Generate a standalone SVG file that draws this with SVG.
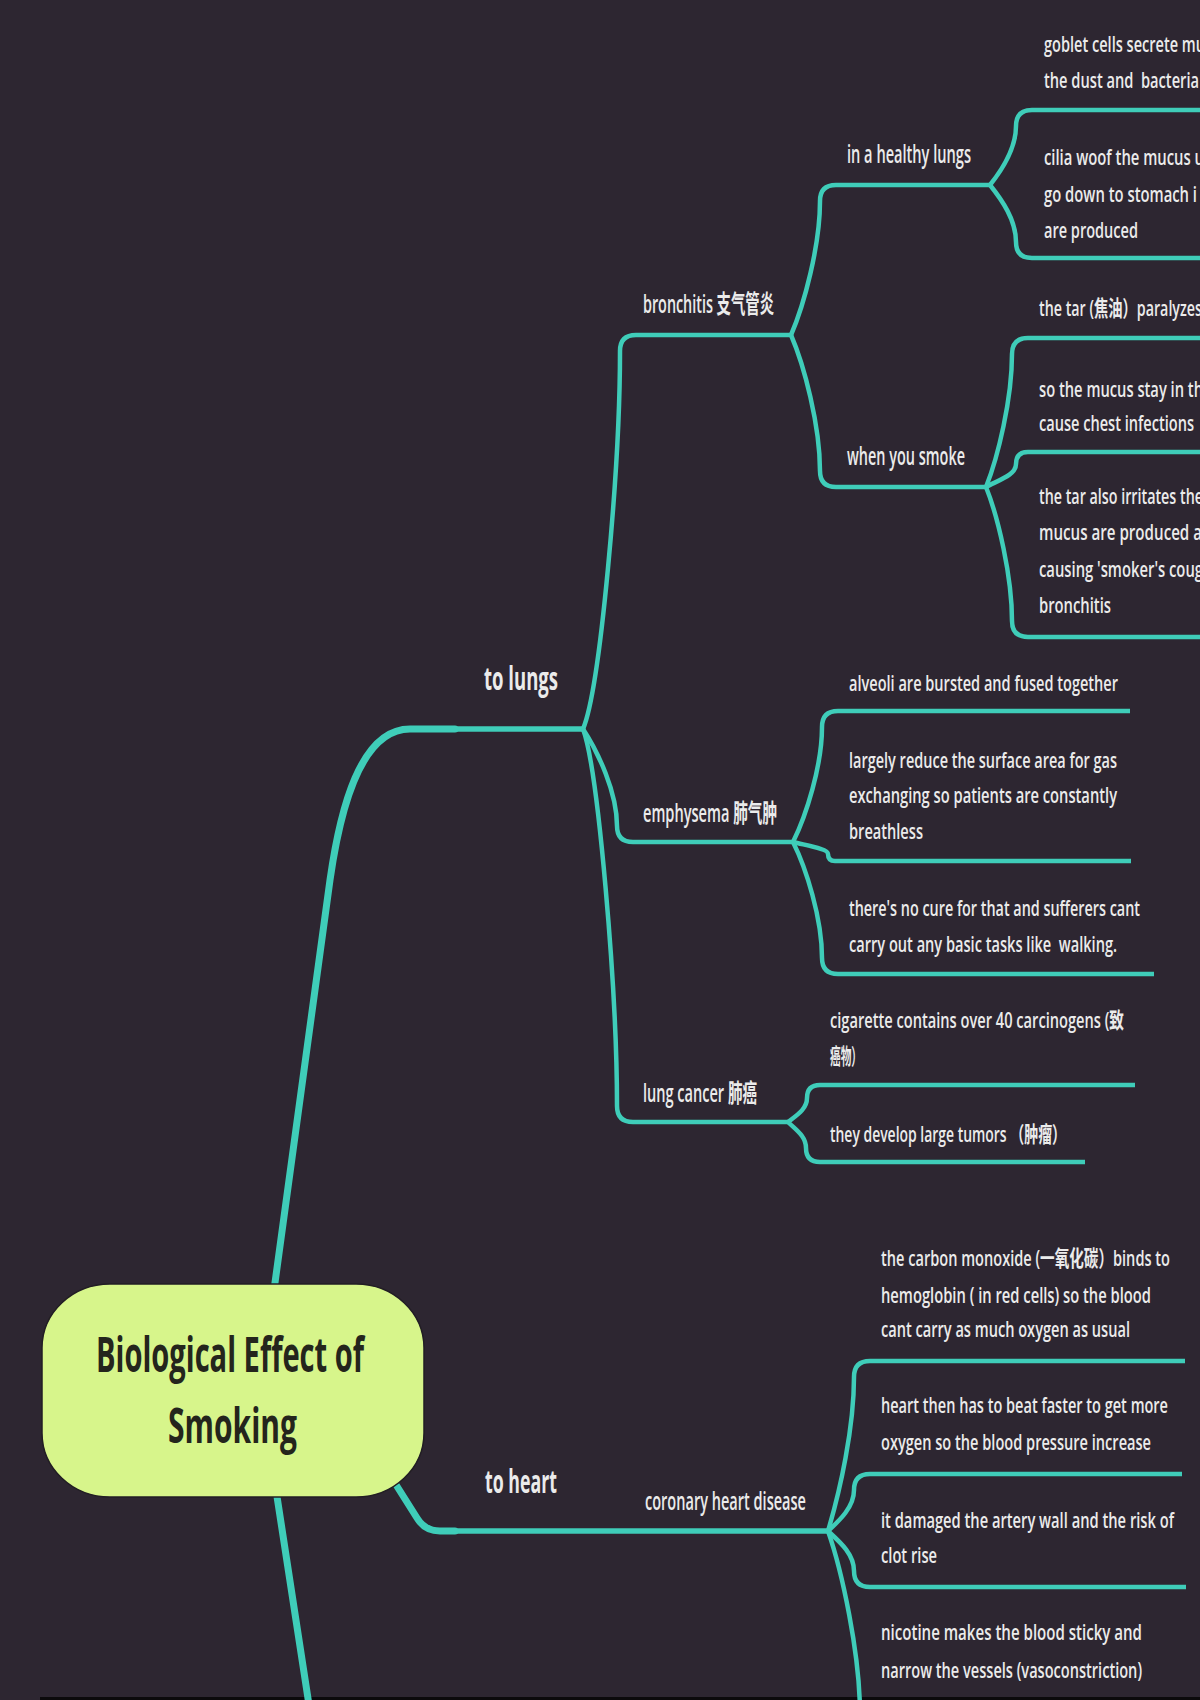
<svg xmlns="http://www.w3.org/2000/svg" width="1200" height="1700" viewBox="0 0 1200 1700">
<style>
.t{font-family:"Open Sans","Noto Sans CJK SC",sans-serif;fill:#ebebeb;}
.l1{font-size:32px;font-weight:700;}
.l2{font-size:25px;font-weight:600;}
.lf{font-size:22px;font-weight:600;}
.root{font-family:"Open Sans","Liberation Sans",sans-serif;font-size:48px;font-weight:700;fill:#24251c;}
.c0{fill:none;stroke:#3fcdb9;stroke-width:7;stroke-linecap:round;stroke-linejoin:round;}
.c1{fill:none;stroke:#3fcdb9;stroke-width:5.5;stroke-linecap:butt;}
.c{fill:none;stroke:#3fcdb9;stroke-width:4.5;stroke-linecap:butt;stroke-linejoin:round;}
</style>
<rect x="0" y="0" width="1200" height="1700" fill="#2d2631"/>
<rect x="40" y="1697" width="1160" height="3" fill="#0b0a0c"/>

<g id="connectors">
  <path class="c0" d="M274,1290 L330,880 C340,810 360,729 410,729 L455,729"/>
  <path class="c1" d="M455,729 L583,729"/>
  <path class="c0" d="M388,1472 L417,1518 Q425,1531 440,1531 L455,1531"/>
  <path class="c1" d="M455,1531 L828,1531"/>
  <path class="c0" d="M276,1490 L309,1705"/>

  <path class="c" d="M583,729 C600,689 620,469 620,351 Q620,335 636,335 L791,335"/>
  <path class="c" d="M583,729 C598,752 617,792 617,826 Q617,842 633,842 L793,842"/>
  <path class="c" d="M583,729 C598,769 617,988 617,1106 Q617,1122 633,1122 L788,1122"/>

  <path class="c" d="M791,335 C804,305 820,246 820,201 Q820,185 836,185 L990,185"/>
  <path class="c" d="M791,335 C804,365 820,425 820,471 Q820,487 836,487 L986,487"/>

  <path class="c" d="M990,185 C1002,170 1016,149 1016,126 Q1016,110 1032,110 L1210,110"/>
  <path class="c" d="M990,185 C1002,200 1016,220 1016,242 Q1016,258 1032,258 L1210,258"/>

  <path class="c" d="M986,487 C998,457 1012,399 1012,354 Q1012,338 1028,338 L1210,338"/>
  <path class="c" d="M986,487 C999,480 1016,475 1016,464 Q1016,452 1028,452 L1210,452"/>
  <path class="c" d="M986,487 C998,517 1012,576 1012,621 Q1012,637 1028,637 L1210,637"/>

  <path class="c" d="M793,842 C806,816 822,766 822,727 Q822,711 838,711 L1130,711"/>
  <path class="c" d="M793,842 C809,846 828,849 828,854 Q828,861 835,861 L1131,861"/>
  <path class="c" d="M793,842 C806,868 822,918 822,958 Q822,974 838,974 L1154,974"/>

  <path class="c" d="M788,1122 C797,1115 807,1109 807,1098 Q807,1085 820,1085 L1135,1085"/>
  <path class="c" d="M788,1122 C796,1130 806,1136 806,1148 Q806,1162 820,1162 L1085,1162"/>

  <path class="c" d="M828,1531 C840,1491 854,1428 854,1377 Q854,1361 870,1361 L1185,1361"/>
  <path class="c" d="M828,1531 C840,1520 854,1507 854,1490 Q854,1474 870,1474 L1182,1474"/>
  <path class="c" d="M828,1531 C840,1542 854,1554 854,1571 Q854,1587 870,1587 L1186,1587"/>
  <path class="c" d="M828,1531 C842,1571 860,1654 860,1714 Q860,1730 876,1730 L1180,1730"/>
</g>

<g id="root">
  <rect x="42" y="1284" width="382" height="213" rx="68" ry="64" fill="#d7f58b" stroke="#221e24" stroke-width="1.5"/>
  <text class="root" x="96" y="1372" textLength="268" lengthAdjust="spacingAndGlyphs">Biological Effect of</text>
  <text class="root" x="168" y="1443" textLength="129" lengthAdjust="spacingAndGlyphs">Smoking</text>
</g>

<g id="to-lungs"><text class="t l1" x="484" y="690" textLength="74" lengthAdjust="spacingAndGlyphs">to lungs</text></g>
<g id="to-heart"><text class="t l1" x="485" y="1493" textLength="72" lengthAdjust="spacingAndGlyphs">to heart</text></g>

<g id="bronchitis"><text class="t l2" x="643" y="313" textLength="131" lengthAdjust="spacingAndGlyphs">bronchitis 支气管炎</text></g>
<g id="emphysema"><text class="t l2" x="643" y="822" textLength="134" lengthAdjust="spacingAndGlyphs">emphysema 肺气肿</text></g>
<g id="lung-cancer"><text class="t l2" x="643" y="1102" textLength="114" lengthAdjust="spacingAndGlyphs">lung cancer 肺癌</text></g>
<g id="coronary"><text class="t l2" x="645" y="1510" textLength="161" lengthAdjust="spacingAndGlyphs">coronary heart disease</text></g>

<g id="healthy"><text class="t l2" x="847" y="163" textLength="124" lengthAdjust="spacingAndGlyphs">in a healthy lungs</text></g>
<g id="smoke"><text class="t l2" x="847" y="465" textLength="118" lengthAdjust="spacingAndGlyphs">when you smoke</text></g>

<g id="goblet">
  <text class="t lf" x="1044" y="52" textLength="161" lengthAdjust="spacingAndGlyphs">goblet cells secrete mu</text>
  <text class="t lf" x="1044" y="88" textLength="155" lengthAdjust="spacingAndGlyphs" xml:space="preserve">the dust and  bacteria</text>
</g>
<g id="cilia">
  <text class="t lf" x="1044" y="165" textLength="160" lengthAdjust="spacingAndGlyphs">cilia woof the mucus u</text>
  <text class="t lf" x="1044" y="202" textLength="153" lengthAdjust="spacingAndGlyphs">go down to stomach i</text>
  <text class="t lf" x="1044" y="238" textLength="94" lengthAdjust="spacingAndGlyphs">are produced</text>
</g>
<g id="tar">
  <text class="t lf" x="1039" y="316" textLength="163" lengthAdjust="spacingAndGlyphs">the tar (焦油）paralyzes</text>
</g>
<g id="mucus-stay">
  <text class="t lf" x="1039" y="397" textLength="164" lengthAdjust="spacingAndGlyphs">so the mucus stay in th</text>
  <text class="t lf" x="1039" y="431" textLength="155" lengthAdjust="spacingAndGlyphs">cause chest infections</text>
</g>
<g id="tar-also">
  <text class="t lf" x="1039" y="504" textLength="164" lengthAdjust="spacingAndGlyphs">the tar also irritates the</text>
  <text class="t lf" x="1039" y="540" textLength="163" lengthAdjust="spacingAndGlyphs">mucus are produced a</text>
  <text class="t lf" x="1039" y="577" textLength="164" lengthAdjust="spacingAndGlyphs">causing 'smoker's coug</text>
  <text class="t lf" x="1039" y="613" textLength="72" lengthAdjust="spacingAndGlyphs">bronchitis</text>
</g>

<g id="alveoli">
  <text class="t lf" x="849" y="691" textLength="269" lengthAdjust="spacingAndGlyphs">alveoli are bursted and fused together</text>
</g>
<g id="surface">
  <text class="t lf" x="849" y="768" textLength="268" lengthAdjust="spacingAndGlyphs">largely reduce the surface area for gas</text>
  <text class="t lf" x="849" y="803" textLength="268" lengthAdjust="spacingAndGlyphs">exchanging so patients are constantly</text>
  <text class="t lf" x="849" y="839" textLength="74" lengthAdjust="spacingAndGlyphs">breathless</text>
</g>
<g id="no-cure">
  <text class="t lf" x="849" y="916" textLength="291" lengthAdjust="spacingAndGlyphs">there's no cure for that and sufferers cant</text>
  <text class="t lf" x="849" y="952" textLength="268" lengthAdjust="spacingAndGlyphs" xml:space="preserve">carry out any basic tasks like  walking.</text>
</g>

<g id="carcinogens">
  <text class="t lf" x="830" y="1028" textLength="294" lengthAdjust="spacingAndGlyphs">cigarette contains over 40 carcinogens (致</text>
  <text class="t lf" x="830" y="1064" textLength="32" lengthAdjust="spacingAndGlyphs">癌物）</text>
</g>
<g id="tumors">
  <text class="t lf" x="830" y="1142" textLength="236" lengthAdjust="spacingAndGlyphs">they develop large tumors （肿瘤）</text>
</g>

<g id="carbon-monoxide">
  <text class="t lf" x="881" y="1266" textLength="289" lengthAdjust="spacingAndGlyphs">the carbon monoxide (一氧化碳）binds to</text>
  <text class="t lf" x="881" y="1303" textLength="270" lengthAdjust="spacingAndGlyphs">hemoglobin ( in red cells) so the blood</text>
  <text class="t lf" x="881" y="1337" textLength="249" lengthAdjust="spacingAndGlyphs">cant carry as much oxygen as usual</text>
</g>
<g id="beat-faster">
  <text class="t lf" x="881" y="1413" textLength="287" lengthAdjust="spacingAndGlyphs">heart then has to beat faster to get more</text>
  <text class="t lf" x="881" y="1450" textLength="270" lengthAdjust="spacingAndGlyphs">oxygen so the blood pressure increase</text>
</g>
<g id="artery">
  <text class="t lf" x="881" y="1528" textLength="293" lengthAdjust="spacingAndGlyphs">it damaged the artery wall and the risk of</text>
  <text class="t lf" x="881" y="1563" textLength="56" lengthAdjust="spacingAndGlyphs">clot rise</text>
</g>
<g id="nicotine">
  <text class="t lf" x="881" y="1640" textLength="261" lengthAdjust="spacingAndGlyphs">nicotine makes the blood sticky and</text>
  <text class="t lf" x="881" y="1678" textLength="261" lengthAdjust="spacingAndGlyphs">narrow the vessels (vasoconstriction)</text>
</g>
</svg>
